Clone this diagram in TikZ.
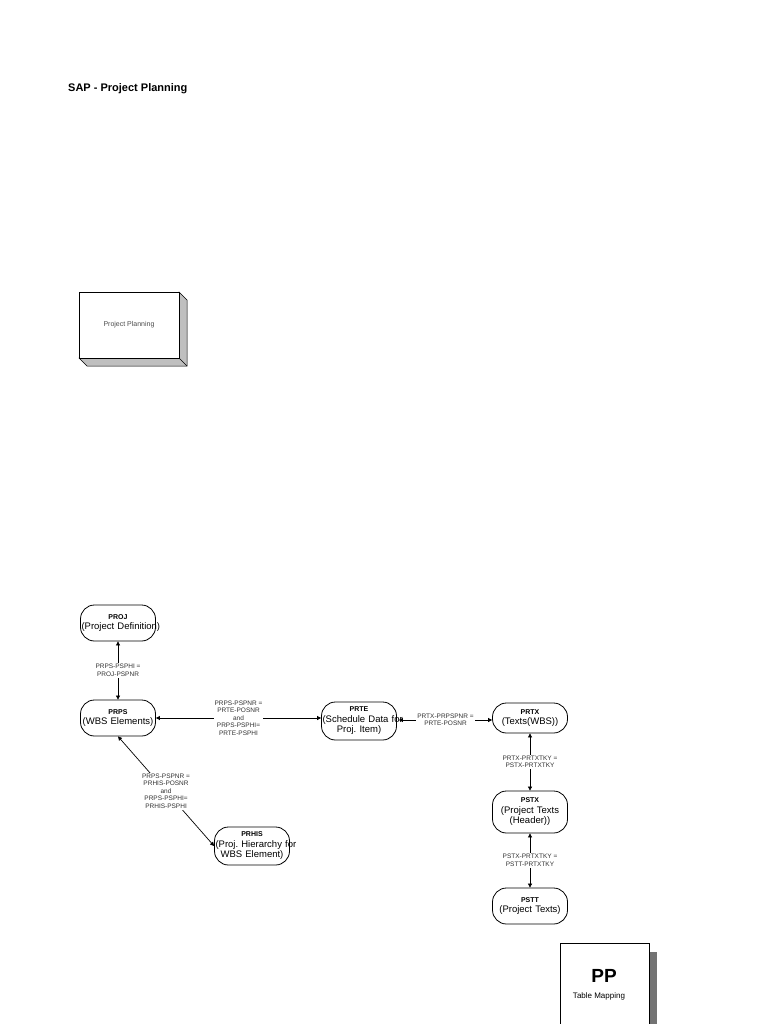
\documentclass[tikz,border=0pt]{standalone}
\usepackage{fontspec}
\setmainfont{Liberation Sans}
\usetikzlibrary{arrows.meta,calc}
\frenchspacing
\begin{document}
\begin{tikzpicture}[x=1pt,y=-1pt,
  tbl/.style={draw, line width=0.8pt, rounded corners=14pt, minimum width=75pt, minimum height=36pt,
    text width=73pt, align=center, inner sep=1pt, font=\fontsize{9.5}{10.5}\selectfont},
  lbl/.style={fill=white, inner sep=1pt, align=center, text=black!80, font=\fontsize{6.5}{7.5}\selectfont},
  link/.style={line width=0.7pt, {Triangle[length=4pt,width=4pt]}-{Triangle[length=4pt,width=4pt]}}]
\useasboundingbox (0,0) rectangle (768,1024);
\fill[white] (0,0) rectangle (768,1024);
% title
\node[anchor=west, inner sep=0pt, font=\fontsize{11}{13}\selectfont\bfseries] (title) at (68,89) {SAP - Project Planning};
% 3D box
\fill[black!25, draw=black, line width=0.5pt] (179,292) -- (187,300) -- (187,366) -- (87,366) -- (79,358) -- (179,358) -- cycle;
\draw[line width=0.5pt] (179,358) -- (187,366);
\node[draw, line width=0.7pt, fill=white, minimum width=100pt, minimum height=66pt, inner sep=0pt, text=black!70, font=\fontsize{7}{8}\selectfont] (pp1) at (129,325) {Project Planning};
% table nodes
\newcommand{\tname}[1]{\mbox{\fontsize{7}{8}\selectfont\bfseries #1}}
\newcommand{\tl}[1]{\mbox{#1}}
\node[tbl] (proj) at (118,623) {\tname{PROJ}\\\tl{(Project Definition)}};
\node[tbl] (prps) at (118,718) {\tname{PRPS}\\\tl{(WBS Elements)}};
\node[tbl, minimum height=38pt] (prte) at (359,721) {\tname{PRTE}\\\tl{(Schedule Data for}\\\tl{Proj. Item)}};
\node[tbl, minimum height=30pt] (prtx) at (530,718) {\tname{PRTX}\\\tl{(Texts(WBS))}};
\node[tbl, minimum height=42pt] (pstx) at (530,812) {\tname{PSTX}\\\tl{(Project Texts}\\\tl{(Header))}};
\node[tbl, minimum height=36pt] (pstt) at (530,906) {\tname{PSTT}\\\tl{(Project Texts)}};
\node[tbl, minimum height=38pt] (prhis) at (252,846) {\tname{PRHIS}\\\tl{(Proj. Hierarchy for}\\\tl{WBS Element)}};
% connectors
\draw[link] (proj.south) -- node[lbl] {PRPS-PSPHI =\\PROJ-PSPNR} (prps.north);
\draw[link] (prps.east) -- node[lbl] {PRPS-PSPNR =\\PRTE-POSNR\\and\\PRPS-PSPHI=\\PRTE-PSPHI} (prps.east -| prte.west);
\draw[link] ($(prte.east)+(2,-1)$) coordinate (pe) -- node[lbl] {PRTX-PRPSPNR =\\PRTE-POSNR} (pe -| prtx.west);
\draw[link] (prtx.south) -- node[lbl] {PRTX-PRTXTKY =\\PSTX-PRTXTKY} (pstx.north);
\draw[link] (pstx.south) -- node[lbl] {PSTX-PRTXTKY =\\PSTT-PRTXTKY} (pstt.north);
\draw[link] (prps.south) -- node[lbl, pos=0.5] {PRPS-PSPNR =\\PRHIS-POSNR\\and\\PRPS-PSPHI=\\PRHIS-PSPHI} (prhis.west);
% PP box
\fill[black!55] (649,952) rectangle (657,1024);
\draw[line width=0.7pt, fill=white] (560,1030) -- (560,943) -- (649,943) -- (649,1030);
\node[font=\fontsize{19}{20}\selectfont\bfseries] (pp) at (604,976) {PP};
\node[font=\fontsize{8}{9}\selectfont] (tm) at (599,996) {Table Mapping};
\end{tikzpicture}
\end{document}
